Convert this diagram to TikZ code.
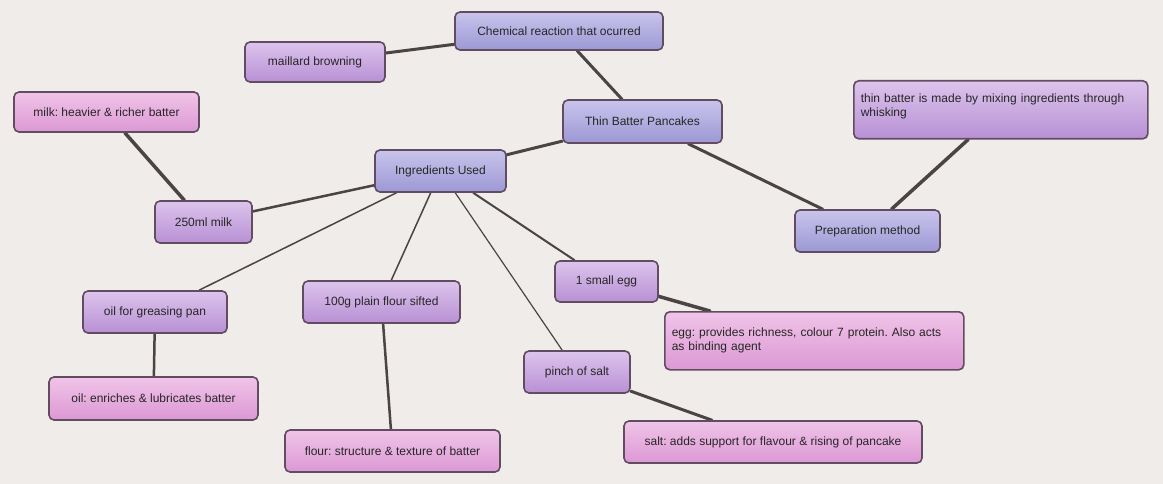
\documentclass[tikz,border=0pt]{standalone}
\usepackage{fontspec}
\setmainfont{Liberation Sans}
\usetikzlibrary{backgrounds}
\pgfdeclarelayer{bg}
\pgfsetlayers{bg,background,main}
\definecolor{pnkT}{HTML}{F0C4E8}
\definecolor{pnkB}{HTML}{DC98D4}
\definecolor{bluT}{HTML}{C8C4EC}
\definecolor{bluB}{HTML}{9C98D4}
\definecolor{purT}{HTML}{DCC4EC}
\definecolor{purB}{HTML}{B890D4}
\definecolor{lnc}{HTML}{4A4444}
\begin{document}
\frenchspacing
\begin{tikzpicture}[x=1pt,y=-1pt,
 box/.style={draw=black!60!violet!40!gray, line width=1.6pt, rounded corners=5pt, inner sep=0pt, font=\fontsize{12}{14}\selectfont, text=black!85},
 pur/.style={box, top color=purT, bottom color=purB},
 pnk/.style={box, top color=pnkT, bottom color=pnkB},
 blu/.style={box, top color=bluT, bottom color=bluB},
 ln/.style={draw=lnc, line cap=round}]
\begin{pgfonlayer}{bg}
\fill[gray!10!white!95!brown] (0,0) rectangle (1163,484);
\end{pgfonlayer}
\useasboundingbox (0,0) rectangle (1163,484);
\def\bx#1#2#3#4#5#6#7{\node[#2, minimum width=#5-#3, minimum height=#6-#4] (#1) at ({(#3+#5)/2},{(#4+#6)/2}) {#7};}
\bx{chem}{blu}{455}{12}{663}{50}{Chemical reaction that ocurred}
\bx{mail}{pur}{245}{42}{385}{82}{maillard browning}
\bx{thin}{blu}{563}{100}{722}{143}{Thin Batter Pancakes}
\node[pur, minimum width=294, minimum height=58, text width=280, align=left, anchor=north west, inner ysep=6pt, text depth=24pt] (made) at (853,80) {thin batter is made by mixing ingredients through whisking};
\bx{milk}{pnk}{14}{92}{199}{132}{milk: heavier \& richer batter}
\bx{ing}{blu}{375}{150}{506}{192}{Ingredients Used}
\bx{ml}{pur}{155}{201}{252}{243}{250ml milk}
\bx{prep}{blu}{795}{210}{940}{252}{Preparation method}
\bx{egg}{pur}{555}{261}{658}{302}{1 small egg}
\bx{oilg}{pur}{83}{291}{227}{333}{oil for greasing pan}
\bx{flr}{pur}{303}{281}{460}{323}{100g plain flour sifted}
\node[pnk, minimum width=299, minimum height=58, text width=285, align=left, anchor=north west, inner ysep=8pt] (eggp) at (664,311) {egg: provides richness, colour 7 protein. Also acts as binding agent};
\bx{salt}{pur}{524}{351}{630}{393}{pinch of salt}
\bx{oile}{pnk}{49}{377}{258}{420}{oil: enriches \& lubricates batter}
\bx{flrs}{pnk}{285}{430}{500}{472}{flour: structure \& texture of batter}
\bx{salta}{pnk}{624}{421}{922}{463}{salt: adds support for flavour \& rising of pancake}
\begin{pgfonlayer}{background}
\draw[ln, line width=3pt] (chem) -- (mail);
\draw[ln, line width=3pt] (chem) -- (thin);
\draw[ln, line width=3pt] (thin) -- (ing);
\draw[ln, line width=3pt] (thin) -- (prep);
\draw[ln, line width=3.5pt] (prep) -- (made);
\draw[ln, line width=3.5pt] (milk) -- (ml);
\draw[ln, line width=2.5pt] (ing) -- (ml);
\draw[ln, line width=1.5pt] (ing) -- (oilg);
\draw[ln, line width=1.5pt] (ing) -- (flr);
\draw[ln, line width=1.2pt] (ing) -- (salt);
\draw[ln, line width=2pt] (ing) -- (egg);
\draw[ln, line width=3.5pt] (egg) -- (eggp);
\draw[ln, line width=2.5pt] (oilg) -- (oile);
\draw[ln, line width=2.5pt] (flr) -- (flrs);
\draw[ln, line width=3pt] (salt) -- (salta);
\end{pgfonlayer}
\end{tikzpicture}
\end{document}
